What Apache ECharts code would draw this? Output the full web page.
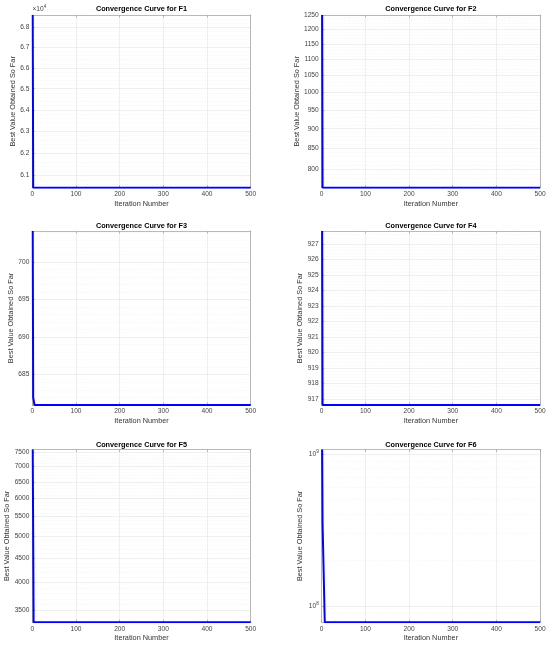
<!DOCTYPE html>
<html><head><meta charset="utf-8">
<script src="https://cdn.jsdelivr.net/npm/echarts@6/dist/echarts.min.js"></script>
<style>html,body{margin:0;padding:0;background:#fff}#c{width:550px;height:651px}</style>
</head><body><div id="c"></div>
<script>
// ---- data ----
const titles = ['Convergence Curve for F1','Convergence Curve for F2','Convergence Curve for F3',
                'Convergence Curve for F4','Convergence Curve for F5','Convergence Curve for F6'];
const xLabel = 'Iteration Number';
const yLabel = 'Best Value Obtained So Far';
const xTicks = [0, 100, 200, 300, 400, 500];

const f1Iter = [1, 2, 500];
const f1Val  = [68615, 60447, 60447];
const f2Iter = [1, 2, 500];
const f2Val  = [1250, 759, 759];
const f3Iter = [1, 2, 4, 5, 500];
const f3Val  = [704.2, 682.0, 682.0, 681.0, 681.0];
const f4Iter = [1, 2, 500];
const f4Val  = [927.84, 916.63, 916.63];
const f5Iter = [1, 2, 3, 500];
const f5Val  = [7598, 5010, 3303, 3303];
const f6Iter = [1, 2, 6, 7, 500];
const f6Val  = [1.067e9, 3.48e8, 3.45e8, 7.82e7, 7.82e7];

const f1Ticks = [61000, 62000, 63000, 64000, 65000, 66000, 67000, 68000];
const f2Ticks = [800, 850, 900, 950, 1000, 1050, 1100, 1150, 1200, 1250];
const f3Ticks = [685, 690, 695, 700];
const f4Ticks = [917, 918, 919, 920, 921, 922, 923, 924, 925, 926, 927];
const f5Ticks = [3500, 4000, 4500, 5000, 5500, 6000, 6500, 7000, 7500];
const f6Ticks = [1e8, 1e9];

const f1MinorStep = 200, f2MinorStep = 10, f3MinorStep = 1, f4MinorStep = 0.2, f5MinorStep = 100;
const f6Minor = [8e7, 9e7, 2e8, 3e8, 4e8, 5e8, 6e8, 7e8, 8e8, 9e8];

// ---- layout / style ----
const FONT = '"Liberation Sans", Arial, Helvetica, sans-serif';
const boxC = '#a8a8a8', gridC = '#e4e4e4', minorC = '#ececec', tickC = '#444', labC = '#333';
const colL = [32.3, 321.7], W = 218.4;
const rowT = [15, 231, 449.5], rowH = [172.7, 174, 172.8];
const titleTop = [5.6, 222.8, 441.2];
const yGaps = [14.5, 20, 17, 18, 22, 18];

const iters = [f1Iter, f2Iter, f3Iter, f4Iter, f5Iter, f6Iter];
const vals = [f1Val, f2Val, f3Val, f4Val, f5Val, f6Val];
const ticks = [f1Ticks, f2Ticks, f3Ticks, f4Ticks, f5Ticks, f6Ticks];
const steps = [f1MinorStep, f2MinorStep, f3MinorStep, f4MinorStep, f5MinorStep, null];

const lg = v => Math.log10(v);
function minorList(i, lo, hi) {
  if (i === 5) return f6Minor;
  const s = steps[i], out = [];
  const a = Math.ceil(lo / s - 1e-9), b = Math.floor(hi / s + 1e-9);
  for (let k = a; k <= b; k++) {
    const v = +(k * s).toFixed(6);
    if (!ticks[i].some(t => Math.abs(t - v) < 1e-9)) out.push(v);
  }
  return out;
}
const fmts = [
  v => (Math.pow(10, v) / 1e4).toFixed(1),
  v => String(Math.round(Math.pow(10, v))),
  v => String(Math.round(Math.pow(10, v))),
  v => String(Math.round(Math.pow(10, v))),
  v => String(Math.round(Math.pow(10, v))),
  v => '{b|10}{s|' + Math.round(v) + '}'
];

const grid = [], xAxis = [], yAxis = [], series = [], title = [];
for (let i = 0; i < 6; i++) {
  const c = i % 2, r = Math.floor(i / 2);
  grid.push({ left: colL[c], top: rowT[r], width: W, height: rowH[r] });
  title.push({ text: titles[i], left: colL[c] + W / 2, top: titleTop[r], textAlign: 'center', padding: 0,
    textStyle: { fontFamily: FONT, fontSize: 7.3, fontWeight: 'bold', color: '#000' } });
  const vmin = Math.min(...vals[i]), vmax = Math.max(...vals[i]);
  const lo = lg(vmin), hi = lg(vmax);
  const majors = ticks[i].filter(t => t >= vmin && t <= vmax).map(lg);
  const minors = minorList(i, vmin, vmax).filter(t => t > vmin && t < vmax).map(lg);
  xAxis.push({
    type: 'value', gridIndex: i, min: 0, max: 500, interval: 100, position: 'bottom',
    name: xLabel, nameLocation: 'middle', nameGap: 12.5,
    nameTextStyle: { fontFamily: FONT, fontSize: 7.3, color: labC },
    axisLine: { show: true, onZero: false, lineStyle: { color: boxC, width: 0.8 } },
    axisTick: { show: true, inside: true, length: 2.5, lineStyle: { color: boxC, width: 0.8 } },
    axisLabel: { fontFamily: FONT, fontSize: 6.6, color: tickC, margin: 3,
      formatter: v => xTicks.includes(v) ? String(v) : '' },
    splitLine: { show: true, lineStyle: { color: gridC, width: 0.6 } }
  });
  xAxis.push({
    type: 'value', gridIndex: i, min: 0, max: 500, interval: 100, position: 'top',
    axisLine: { show: true, onZero: false, lineStyle: { color: boxC, width: 0.8 } },
    axisTick: { show: true, inside: true, length: 2.5, lineStyle: { color: boxC, width: 0.8 } },
    axisLabel: { show: false }, splitLine: { show: false }
  });
  yAxis.push({
    type: 'value', gridIndex: i, min: lo, max: hi, position: 'left',
    name: yLabel, nameLocation: 'middle', nameGap: yGaps[i],
    nameTextStyle: { fontFamily: FONT, fontSize: 7.3, color: labC },
    axisLine: { show: true, onZero: false, lineStyle: { color: boxC, width: 0.8 } },
    axisTick: { show: true, inside: true, length: 2.5, customValues: majors, lineStyle: { color: boxC, width: 0.8 } },
    axisLabel: { customValues: majors, formatter: fmts[i], fontFamily: FONT, fontSize: 6.6, color: tickC, margin: 3,
      rich: { b: { fontFamily: FONT, fontSize: 6.6, color: tickC }, s: { fontFamily: FONT, fontSize: 4.6, color: tickC, padding: [0, 0, 5, 0] } } },
    splitLine: { show: true, lineStyle: { color: gridC, width: 0.6 } }
  });
  yAxis.push({
    type: 'value', gridIndex: i, min: lo, max: hi, position: 'right',
    axisLine: { show: true, onZero: false, lineStyle: { color: boxC, width: 0.8 } },
    axisTick: { show: false, customValues: minors },
    axisLabel: { show: false, customValues: minors },
    splitLine: { show: true, lineStyle: { color: minorC, width: 0.5, type: [1, 1.5] } }
  });
  series.push({
    type: 'line', xAxisIndex: 2 * i, yAxisIndex: 2 * i, showSymbol: false, symbol: 'none',
    data: iters[i].map((x, k) => [x, lg(vals[i][k])]),
    lineStyle: { color: '#0000ff', width: 2 }, z: 5
  });
}

const chart = echarts.init(document.getElementById('c'), null, { renderer: 'canvas' });
chart.setOption({
  animation: false, backgroundColor: '#fff',
  title, grid, xAxis, yAxis, series,
  graphic: [{
    type: 'text', left: 32.5, top: 4,
    style: { text: '{a|×10}{s|4}', rich: {
      a: { fontFamily: FONT, fontSize: 6.6, fill: tickC },
      s: { fontFamily: FONT, fontSize: 4.6, fill: tickC, padding: [0, 0, 5, 0] } } }
  }]
});
</script>
</body></html>
